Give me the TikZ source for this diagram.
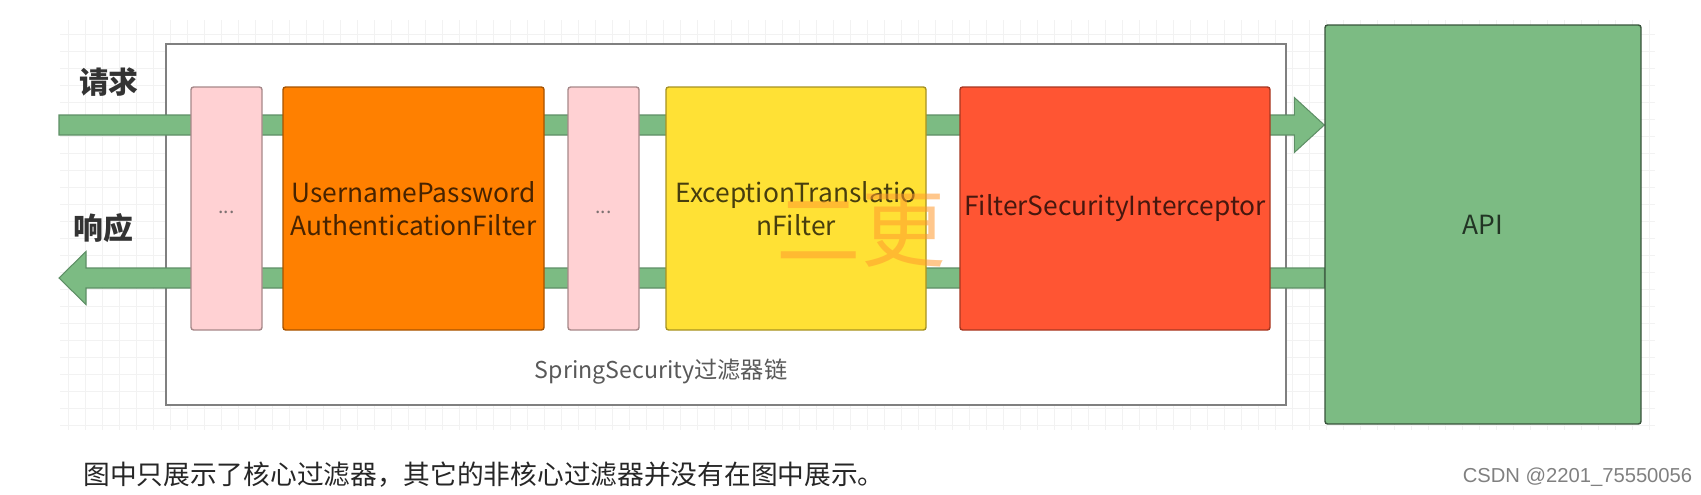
\documentclass[tikz,border=0pt]{standalone}
\usepackage{fontspec}
\setmainfont{Noto Sans CJK SC}
\newfontfamily\csdnfont{Liberation Sans}
\usepackage{tikz}
\usetikzlibrary{calc}
\pgfdeclarelayer{back}
\pgfdeclarelayer{mid}
\pgfsetlayers{back,mid,main}

\definecolor{bandgreen}{HTML}{7CBB83}
\definecolor{bandedge}{HTML}{5E8F66}
\definecolor{pinkfill}{HTML}{FFD1D3}
\definecolor{orangefill}{HTML}{FF8000}
\definecolor{yellowfill}{HTML}{FFE135}
\definecolor{redfill}{HTML}{FF5533}
\definecolor{wmorange}{HTML}{FF9A2E}

\begin{document}
\begin{tikzpicture}[
  filterbox/.style={draw=#1!65!black, fill=#1, rounded corners=1.5pt, line width=0.8pt,
    minimum height=4.86cm, inner sep=0pt, align=center, text=black, text opacity=0.72,
    font=\fontsize{15}{19}\selectfont},
  dotsbox/.style={filterbox=pinkfill, minimum width=1.42cm, text=black!70,
    font=\fontsize{11}{13}\selectfont},
  band/.style={fill=bandgreen, draw=bandedge, line width=0.6pt, line join=miter},
  sidetext/.style={font=\fontsize{17}{20}\selectfont\bfseries, text=black!80},
  gridline/.style={draw=black!5, line width=0.3pt}
]
\useasboundingbox (0,0) rectangle (34.02,-9.9);

% chain frame and grid
\begin{pgfonlayer}{back}
\draw[gridline, step=0.34] (1.2,-0.4) grid (33.1,-8.6);
\node[draw=black!50, fill=white, line width=1.2pt, minimum width=22.4cm, minimum height=7.22cm] (chain) at (14.52,-4.49) {};
\end{pgfonlayer}

\node[dotsbox] (dots1) at (4.53,-4.17) {\raisebox{-0.2cm}{...}};
\node[filterbox=orangefill, minimum width=5.22cm] (upaf) at (8.27,-4.17) {UsernamePassword\\AuthenticationFilter};
\node[dotsbox] (dots2) at (12.07,-4.17) {\raisebox{-0.2cm}{...}};
\node[filterbox=yellowfill, minimum width=5.2cm] (etf) at (15.92,-4.17) {ExceptionTranslatio\\nFilter};
\node[filterbox=redfill, minimum width=6.2cm] (fsi) at (22.3,-4.17) {FilterSecurityInterceptor};
\node[filterbox=bandgreen, draw=black!55!bandgreen, minimum width=6.32cm, minimum height=7.98cm] (api) at (29.66,-4.49) {API};

\node[font=\fontsize{13.2}{16}\selectfont, text=black!65] (chaintext) at (13.22,-7.44) {SpringSecurity过滤器链};

\node[sidetext] (reqtext) at (2.18,-1.64) {请求};
\node[sidetext] (resptext) at (2.06,-4.56) {响应};

\coordinate (req) at (1.18,-2.5);
\coordinate (resp) at (1.18,-5.56);

% request and response bands
\begin{pgfonlayer}{mid}
\draw[band] ($(req)+(0,0.2)$) -- ($(api.west |- req)+(-0.6,0.2)$) -- ++(0,0.35) -- (api.west |- req)
  -- ($(api.west |- req)+(-0.6,-0.55)$) -- ++(0,0.35) -- ($(req)+(0,-0.2)$) -- cycle;
\draw[band] ($(api.west |- resp)+(0,0.2)$) -- ($(resp)+(0.54,0.2)$) -- ++(0,0.33) -- (resp)
  -- ($(resp)+(0.54,-0.53)$) -- ++(0,0.33) -- ($(api.west |- resp)+(0,-0.2)$) -- cycle;
\end{pgfonlayer}

\node[text=wmorange, text opacity=0.55, font=\fontsize{48}{50}\selectfont] (mark) at (17.22,-4.62) {二更};

\node[font=\fontsize{15.2}{18}\selectfont, text=black!85] (caption) at (9.68,-9.5) {图中只展示了核心过滤器，其它的非核心过滤器并没有在图中展示。};
\node[font=\csdnfont\fontsize{11.5}{13}\selectfont, text=black!50] (csdn) at (31.55,-9.54) {CSDN @2201\_75550056};
\end{tikzpicture}
\end{document}
